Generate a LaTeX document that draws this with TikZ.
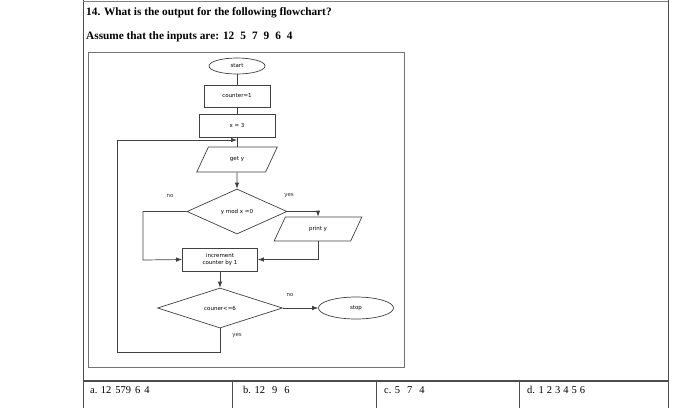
\documentclass[tikz,border=0pt]{standalone}
\usepackage{fontspec}
\setmainfont{Liberation Serif}
\newfontfamily\fsans{DejaVu Sans}
\usetikzlibrary{shapes.geometric,arrows.meta}
\begin{document}
\begin{tikzpicture}[x=1pt,y=-1pt,
  fc/.style={draw=black!75,line width=0.7pt,font=\fsans\fontsize{5.5}{6.5}\selectfont,inner sep=1pt,align=center},
  box/.style={fc,rectangle,minimum width=#1,minimum height=22},
  par/.style={fc,trapezium,trapezium left angle=65,trapezium right angle=115,minimum width=50,minimum height=24},
  dia/.style={fc,diamond,aspect=2.2},
  ov/.style={fc,ellipse},
  ln/.style={draw=black!75,line width=0.7pt},
  ar/.style={ln,-{Latex[length=6pt,width=4.5pt]}},
  lab/.style={font=\fsans\fontsize{5.5}{6.5}\selectfont,text=black!80},
  frm/.style={draw=black!70,line width=1pt}]
\useasboundingbox (0,0) rectangle (700,408);
% outer frame
\draw[frm] (83,0) -- (83,408);
\draw[frm] (668,0) -- (668,408);
\draw[draw=black!50,line width=0.6pt] (83,1) -- (668,1);
\draw[frm,line width=1.2pt] (83,381) -- (668,381);
\foreach \x in {232,376,519} \draw[frm] (\x,381) -- (\x,408);
\node[anchor=base west,font=\bfseries\fontsize{11.3}{13}\selectfont,inner sep=0] (t1) at (86,15) {14. What is the output for the following flowchart?};
\node[anchor=base west,font=\bfseries\fontsize{11.3}{13}\selectfont,inner sep=0] (t2) at (86,39) {Assume that the inputs are:\hspace{4pt}12\hspace{6pt}5\hspace{6pt}7\hspace{6pt}9\hspace{6pt}6\hspace{6pt}4};
\foreach \n/\x/\t in {a/90/{a. 12\hspace{4pt}579\hspace{4pt}6\hspace{4pt}4},b/243/{b. 12\hspace{7pt}9\hspace{7pt}6},c/384/{c. 5\hspace{7pt}7\hspace{7pt}4},d/527/{d. 1\hspace{3pt}2\hspace{3pt}3\hspace{3pt}4\hspace{3pt}5\hspace{3pt}6}}
  \node[anchor=base west,font=\fontsize{10.5}{12}\selectfont,inner sep=0] (ans\n) at (\x,393) {\t};
% inner frame
\draw[draw=black!55,line width=0.7pt] (88,52) rectangle (404,367);
% flowchart
\node[ov,minimum width=56,minimum height=16] (start) at (237,66) {start};
\node[box=66,minimum height=22] (c1) at (237,96) {counter=1};
\node[box=76,minimum height=23] (x3) at (237,125.5) {x = 3};
\node[par,minimum width=58,minimum height=25] (gety) at (237,159.5) {get y};
\node[dia,minimum width=100,minimum height=45] (d1) at (237,211.5) {y mod x =0};
\node[par,minimum width=54,minimum height=24] (pr) at (318,229) {print y};
\node[box=75,minimum height=23] (inc) at (220,259.5) {increment\\counter by 1};
\node[dia,minimum width=125,minimum height=40] (d2) at (220,308) {couner<=6};
\node[ov,minimum width=75,minimum height=22] (stop) at (356,308) {stop};
\coordinate (lp) at (237,140);
\coordinate (bl) at (220,352);
\coordinate (bl2) at (117,352);
\coordinate (tl) at (117,140);
\draw[ln] (start) -- (c1);
\draw[ln] (c1) -- (x3);
\draw[ln] (x3) -- (gety);
\draw[ar] (gety) -- (d1);
\draw[ar] (d1.east) -| (pr.north);
\draw[ar] (d1.west) -| (143,260) -- (inc.west);
\draw[ar] (pr.south) |- (inc.east);
\draw[ar] (inc) -- (d2);
\draw[ar] (d2.east) -- (stop.west);
\draw[ar] (d2.south) -- (bl) -- (bl2) -- (tl) -- (lp);
\node[lab] (lno1) at (170,196) {no};
\node[lab] (lyes1) at (289,196) {yes};
\node[lab] (lno2) at (290,295) {no};
\node[lab] (lyes2) at (237,336) {yes};
\end{tikzpicture}
\end{document}
